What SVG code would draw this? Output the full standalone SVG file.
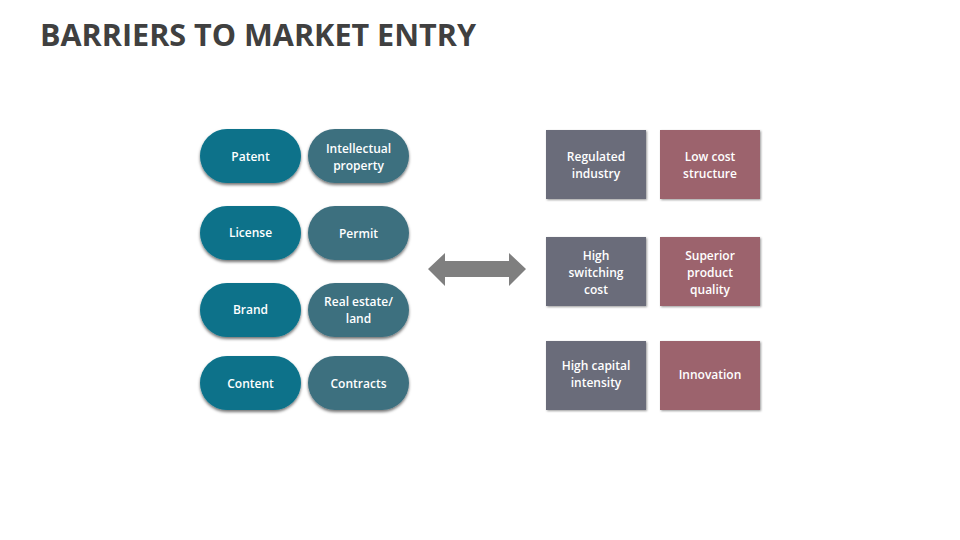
<svg xmlns="http://www.w3.org/2000/svg" width="960" height="540" viewBox="0 0 960 540">
<style>
.t{font-family:"Open Sans","Liberation Sans",Arial,sans-serif;font-size:12px;font-weight:600;fill:#ffffff;text-anchor:middle}
.p1{fill:#08728a}
.p2{fill:#3d6f7f}
.g{fill:#6a6c7a}
.r{fill:#9c646d}
</style>
<defs>
<filter id="sh" x="-20%" y="-20%" width="140%" height="150%">
<feGaussianBlur in="SourceAlpha" stdDeviation="1.5"/>
<feOffset dx="0" dy="2" result="b"/>
<feFlood flood-color="#000" flood-opacity="0.55"/>
<feComposite in2="b" operator="in"/>
<feMerge><feMergeNode/><feMergeNode in="SourceGraphic"/></feMerge>
</filter>
<filter id="sh2" x="-20%" y="-20%" width="140%" height="140%">
<feGaussianBlur in="SourceAlpha" stdDeviation="1"/>
<feOffset dx="1" dy="1" result="b"/>
<feFlood flood-color="#000" flood-opacity="0.4"/>
<feComposite in2="b" operator="in"/>
<feMerge><feMergeNode/><feMergeNode in="SourceGraphic"/></feMerge>
</filter>
</defs>
<rect width="960" height="540" fill="#ffffff"/>
<text x="40" y="46" font-family="Open Sans,Liberation Sans,Arial,sans-serif" font-weight="bold" font-size="30" fill="#404040" textLength="436" lengthAdjust="spacingAndGlyphs">BARRIERS TO MARKET ENTRY</text>

<g id="patent"><rect class="p1" x="200" y="129" width="101" height="54" rx="27" filter="url(#sh)"/><text class="t" x="250.5" y="161">Patent</text></g>
<g id="intellectual-property"><rect class="p2" x="308" y="129" width="101" height="54" rx="27" filter="url(#sh)"/><text class="t" x="358.5" y="153">Intellectual</text><text class="t" x="358.5" y="170">property</text></g>
<g id="license"><rect class="p1" x="200" y="206" width="101" height="54" rx="27" filter="url(#sh)"/><text class="t" x="250.5" y="237">License</text></g>
<g id="permit"><rect class="p2" x="308" y="206" width="101" height="54" rx="27" filter="url(#sh)"/><text class="t" x="358.5" y="238">Permit</text></g>
<g id="brand"><rect class="p1" x="200" y="283" width="101" height="54" rx="27" filter="url(#sh)"/><text class="t" x="250.5" y="314">Brand</text></g>
<g id="real-estate"><rect class="p2" x="308" y="283" width="101" height="54" rx="27" filter="url(#sh)"/><text class="t" x="358.5" y="306">Real estate/</text><text class="t" x="358.5" y="323">land</text></g>
<g id="content"><rect class="p1" x="200" y="356" width="101" height="54" rx="27" filter="url(#sh)"/><text class="t" x="250.5" y="388">Content</text></g>
<g id="contracts"><rect class="p2" x="308" y="356" width="101" height="54" rx="27" filter="url(#sh)"/><text class="t" x="358.5" y="388">Contracts</text></g>

<g id="connectors">
<polygon points="428,269 445,253 445,261 509,261 509,253 526,269 509,286 509,277 445,277 445,286" fill="#7f7f7f"/>
</g>

<g id="regulated-industry"><rect class="g" x="546" y="130" width="100" height="69" filter="url(#sh2)"/><text class="t" x="596" y="161">Regulated</text><text class="t" x="596" y="178">industry</text></g>
<g id="low-cost-structure"><rect class="r" x="660" y="130" width="100" height="69" filter="url(#sh2)"/><text class="t" x="710" y="161">Low cost</text><text class="t" x="710" y="178">structure</text></g>
<g id="high-switching-cost"><rect class="g" x="546" y="237" width="100" height="69" filter="url(#sh2)"/><text class="t" x="596" y="260">High</text><text class="t" x="596" y="277">switching</text><text class="t" x="596" y="294">cost</text></g>
<g id="superior-product-quality"><rect class="r" x="660" y="237" width="100" height="69" filter="url(#sh2)"/><text class="t" x="710" y="260">Superior</text><text class="t" x="710" y="277">product</text><text class="t" x="710" y="294">quality</text></g>
<g id="high-capital-intensity"><rect class="g" x="546" y="341" width="100" height="69" filter="url(#sh2)"/><text class="t" x="596" y="370">High capital</text><text class="t" x="596" y="387">intensity</text></g>
<g id="innovation"><rect class="r" x="660" y="341" width="100" height="69" filter="url(#sh2)"/><text class="t" x="710" y="379">Innovation</text></g>
</svg>
